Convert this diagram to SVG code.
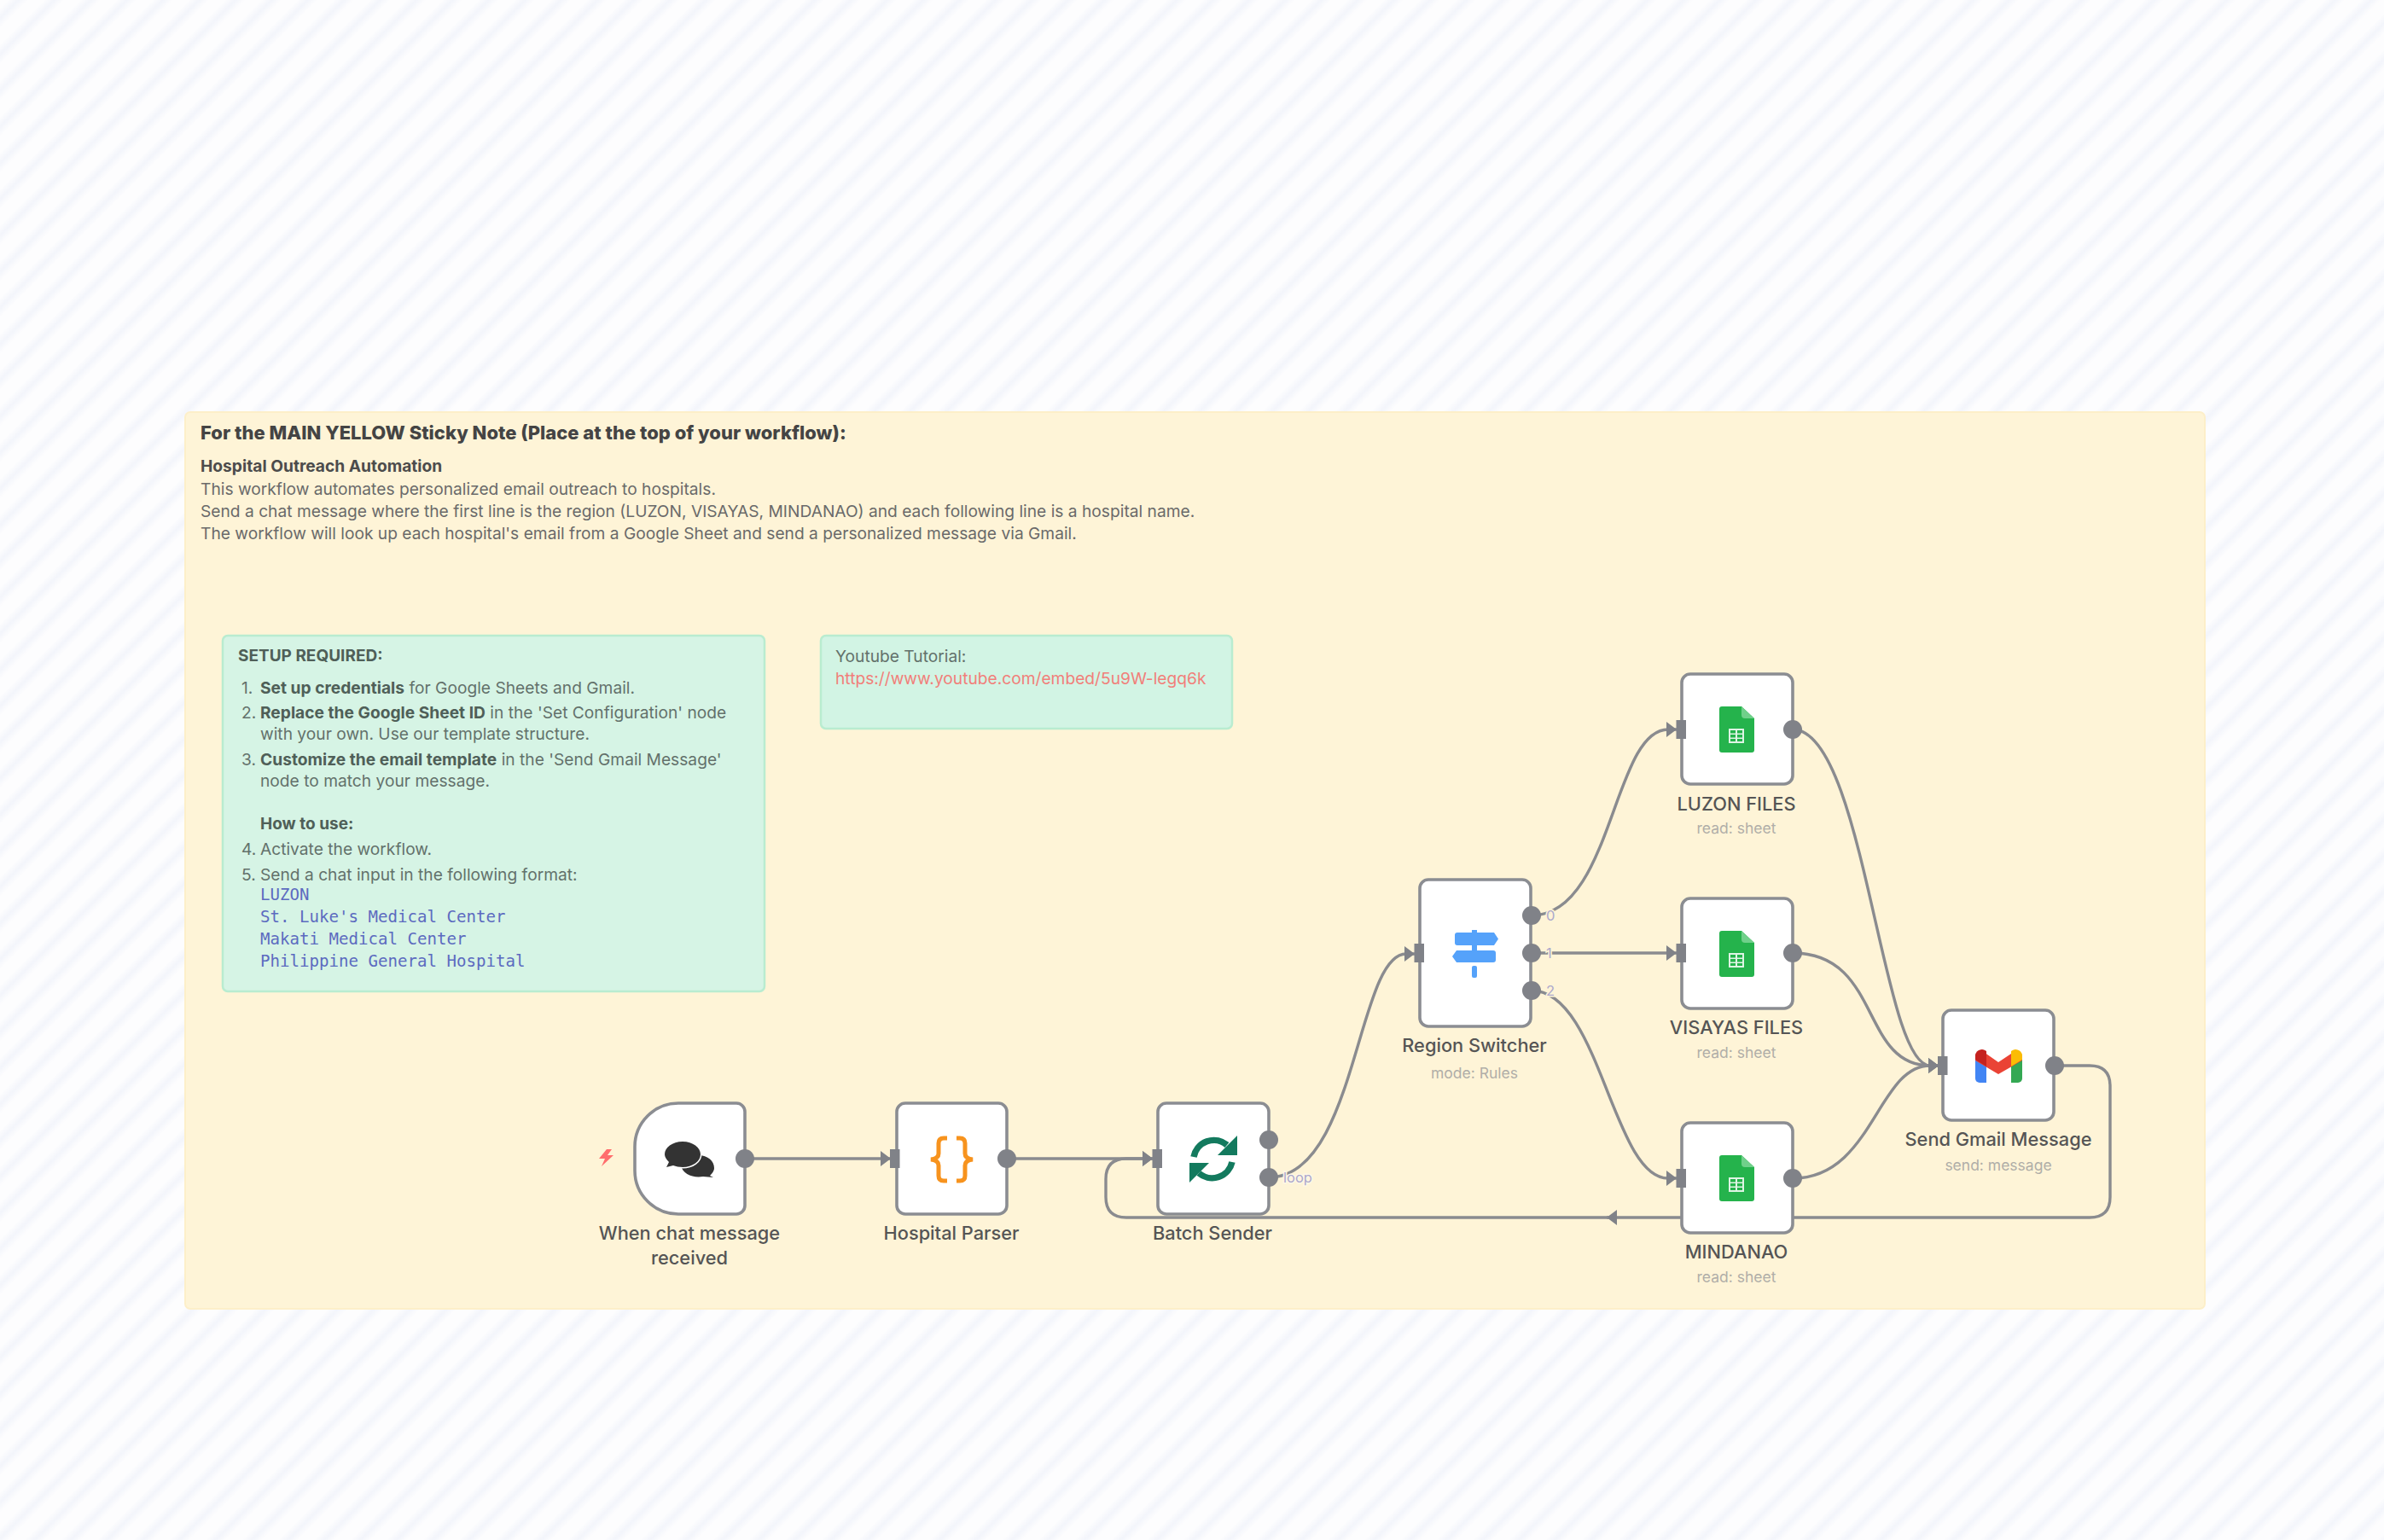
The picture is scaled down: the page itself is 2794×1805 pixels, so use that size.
<svg xmlns="http://www.w3.org/2000/svg" width="2794" height="1805" viewBox="0 0 2794 1805">
<style>
text{font-family:"Inter","Liberation Sans",sans-serif}
.title{font-size:22px;font-weight:800;fill:#444}
.h{font-size:19.2px;font-weight:700;fill:#4c4c4c}
.b{font-size:19.2px;fill:#6a6a6a}
.gh{font-size:19px;font-weight:700;fill:#4f5f58}
.gb{font-size:19.2px;fill:#63716b}
.gs{font-weight:700;fill:#4f5f58}
.m{font-family:"DejaVu Sans Mono",monospace;font-size:19.1px;fill:#5c6bc0}
.box{fill:#fff;stroke:#8b8d92;stroke-width:3.6}
.port{fill:#808288}
.inp{fill:#808288}
.lab{font-size:21.8px;font-weight:500;fill:#555;text-anchor:middle}
.sub{font-size:17.5px;fill:#b0aea8;text-anchor:middle}
.pl{font-size:16.5px;fill:#aca8cc}
.e{fill:none;stroke:#8a8b8f;stroke-width:3.4}
</style>
<defs>
<linearGradient id="st" x1="0" y1="0" x2="1" y2="0">
<stop offset="0" stop-color="#fdfdfe"/><stop offset="0.22" stop-color="#fdfdfe"/><stop offset="0.5" stop-color="#f3f5fb"/><stop offset="0.78" stop-color="#fdfdfe"/><stop offset="1" stop-color="#fdfdfe"/>
</linearGradient>
<pattern id="bg" width="30" height="30" patternUnits="userSpaceOnUse" patternTransform="rotate(45)">
<rect width="30" height="30" fill="url(#st)"/>
</pattern>
<marker id="arr" markerUnits="userSpaceOnUse" markerWidth="13" markerHeight="20" refX="12" refY="10" orient="auto">
<path d="M0,1 L12,10 L0,19 Z" fill="#808288"/>
</marker>
<symbol id="sheet" viewBox="0 0 42 54" overflow="visible">
<path d="M3,0 H26 L41,14 V51 a3,3 0 0 1 -3,3 H3 a3,3 0 0 1 -3,-3 V3 a3,3 0 0 1 3,-3 Z" fill="#25b34c"/>
<path d="M26,0 L41,14 H30 a4,4 0 0 1 -4,-4 Z" fill="#70d08a"/>
<path d="M11,26 H29 V43 H11 Z M13,28 V31.500 H19 V28 Z M21,28 V31.500 H27 V28 Z M13,33 V36.500 H19 V33 Z M21,33 V36.500 H27 V33 Z M13,38 V41 H19 V38 Z M21,38 V41 H27 V38 Z" fill="#fff" fill-rule="evenodd" opacity=".85"/>
</symbol>
</defs>
<rect id="background" width="2794" height="1805" fill="url(#bg)"/>

<g id="note-main">
<rect x="217" y="483" width="2367" height="1051" rx="6" fill="#fef4d7" stroke="#fdefc9" stroke-width="2"/>
<text class="title" x="235" y="515">For the MAIN YELLOW Sticky Note (Place at the top of your workflow):</text>
<text class="h" x="235" y="553">Hospital Outreach Automation</text>
<text class="b" x="235" y="580">This workflow automates personalized email outreach to hospitals.</text>
<text class="b" x="235" y="606">Send a chat message where the first line is the region (LUZON, VISAYAS, MINDANAO) and each following line is a hospital name.</text>
<text class="b" x="235" y="632">The workflow will look up each hospital's email from a Google Sheet and send a personalized message via Gmail.</text>
</g>

<g id="note-setup">
<rect x="261" y="745" width="635" height="417" rx="6" fill="#d6f4e5" stroke="#b9ecd0" stroke-width="2.500"/>
<text class="gh" x="279" y="775">SETUP REQUIRED:</text>
<text class="gb" x="283" y="813">1.</text><text class="gb" x="305" y="813"><tspan class="gs">Set up credentials</tspan> for Google Sheets and Gmail.</text>
<text class="gb" x="283" y="842">2.</text><text class="gb" x="305" y="842"><tspan class="gs">Replace the Google Sheet ID</tspan> in the 'Set Configuration' node</text>
<text class="gb" x="305" y="867">with your own. Use our template structure.</text>
<text class="gb" x="283" y="897">3.</text><text class="gb" x="305" y="897"><tspan class="gs">Customize the email template</tspan> in the 'Send Gmail Message'</text>
<text class="gb" x="305" y="922">node to match your message.</text>
<text class="gh" x="305" y="972">How to use:</text>
<text class="gb" x="283" y="1002">4.</text><text class="gb" x="305" y="1002">Activate the workflow.</text>
<text class="gb" x="283" y="1032">5.</text><text class="gb" x="305" y="1032">Send a chat input in the following format:</text>
<text class="m" x="305" y="1055">LUZON</text>
<text class="m" x="305" y="1081">St. Luke's Medical Center</text>
<text class="m" x="305" y="1107">Makati Medical Center</text>
<text class="m" x="305" y="1133">Philippine General Hospital</text>
</g>

<g id="note-youtube">
<rect x="962" y="745" width="482" height="109" rx="6" fill="#d2f4e4" stroke="#b9ecd0" stroke-width="2.500"/>
<text class="gb" x="979" y="776">Youtube Tutorial:</text>
<text x="979" y="802" font-size="19.2" fill="#f17f7a">https://www.youtube.com/embed/5u9W-legq6k</text>
</g>

<g id="connectors">
<path class="e" marker-end="url(#arr)" d="M873,1358 H1044"/>
<path class="e" marker-end="url(#arr)" d="M1180,1358 H1351"/>
<path class="e" marker-end="url(#arr)" d="M1487,1380 C1590,1380 1590,1118 1648,1118 L1658,1118"/>
<path class="e" marker-end="url(#arr)" d="M1795,1073 C1890,1073 1890,855 1955,855 L1965,855"/>
<path class="e" marker-end="url(#arr)" d="M1795,1117 H1965"/>
<path class="e" marker-end="url(#arr)" d="M1795,1161 C1875,1161 1890,1381 1955,1381 L1965,1381"/>
<path class="e" marker-end="url(#arr)" d="M2101,855 C2185,855 2205,1249 2262,1249 L2272,1249"/>
<path class="e" marker-end="url(#arr)" d="M2101,1117 C2205,1117 2180,1249 2262,1249 L2272,1249"/>
<path class="e" marker-end="url(#arr)" d="M2101,1381 C2195,1381 2200,1249 2262,1249 L2272,1249"/>
<path class="e" marker-end="url(#arr)" d="M2408,1249 H2449 Q2473,1249 2473,1273 V1403 Q2473,1427 2449,1427 H1883"/>
<path class="e" marker-end="url(#arr)" d="M1885,1427 H1320 Q1296,1427 1296,1403 V1382 Q1296,1358 1320,1358 H1351"/>
</g>

<g id="node-chat">
<path class="box" d="M795,1293 H863 a10,10 0 0 1 10,10 V1413 a10,10 0 0 1 -10,10 H795 a51,51 0 0 1 -51,-51 V1344 a51,51 0 0 1 51,-51 Z"/>
<polygon points="711,1347 702,1358 709,1358 705,1367 719,1354 712,1354 717,1347" fill="#ff6d6d"/>
<path d="M818,1354 C830,1354 837,1361 837,1369 C837,1373 834,1376 832,1378 L836,1380 L824,1379 C812,1381 800,1376 798,1366 Z" fill="#333"/>
<path d="M800,1338 C812,1338 821,1345 821,1353 C821,1361 812,1368 800,1368 C796,1368 792,1367 789,1366 L781,1368 L784,1362 C781,1359 779,1356 779,1353 C779,1345 788,1338 800,1338 Z" fill="#333" stroke="#fff" stroke-width="3" paint-order="stroke"/>
<circle class="port" cx="873" cy="1358" r="11"/>
<text class="lab" x="808" y="1453">When chat message</text>
<text class="lab" x="808" y="1482">received</text>
</g>

<g id="node-parser">
<rect class="box" x="1051" y="1293" width="129" height="130" rx="10"/>
<rect class="inp" x="1043" y="1347" width="11.500" height="22"/>
<path d="M1110,1334 H1106 Q1100,1334 1100,1340 V1352 Q1100,1358 1091,1359 Q1100,1360 1100,1366 V1378 Q1100,1384 1106,1384 H1110 M1121,1334 H1125 Q1131,1334 1131,1340 V1352 Q1131,1358 1140,1359 Q1131,1360 1131,1366 V1378 Q1131,1384 1125,1384 H1121" fill="none" stroke="#f7931e" stroke-width="5"/>
<circle class="port" cx="1180" cy="1358" r="11"/>
<text class="lab" x="1115" y="1453">Hospital Parser</text>
</g>

<g id="node-batch">
<rect class="box" x="1357" y="1293" width="130" height="130" rx="10"/>
<rect class="inp" x="1350.500" y="1347" width="11.500" height="22"/>
<path d="M1399,1356 A24,24 0 0 1 1438,1342 M1444,1362 A24,24 0 0 1 1405,1375" fill="none" stroke="#137a5e" stroke-width="7.500"/>
<polygon points="1450,1331 1450,1354 1427,1354" fill="#137a5e"/>
<polygon points="1394,1386 1394,1363 1417,1363" fill="#137a5e"/>
<circle class="port" cx="1487" cy="1336" r="11"/>
<circle class="port" cx="1487" cy="1380" r="11"/>
<text class="pl" x="1504" y="1386" stroke="#fff8e6" stroke-width="3" paint-order="stroke">loop</text>
<text class="lab" x="1421" y="1453">Batch Sender</text>
</g>

<g id="node-switch">
<rect class="box" x="1664" y="1031" width="130" height="172" rx="10"/>
<rect class="inp" x="1657.500" y="1106" width="11.500" height="22"/>
<path d="M1708,1093 H1751 L1756,1100.500 L1751,1108 H1708 a3,3 0 0 1 -3,-3 V1096 a3,3 0 0 1 3,-3 Z M1707,1114 H1750 a3,3 0 0 1 3,3 V1125 a3,3 0 0 1 -3,3 H1707 L1702,1121 Z M1725,1090 h6 v3 h-6 Z M1725,1108 h6 v6 h-6 Z" fill="#55a2fa"/>
<rect x="1725" y="1132" width="6" height="14" rx="2" fill="#55a2fa"/>
<circle class="port" cx="1795" cy="1073" r="11"/>
<circle class="port" cx="1795" cy="1117" r="11"/>
<circle class="port" cx="1795" cy="1161" r="11"/>
<text class="pl" x="1812" y="1079" stroke="#fef4d7" stroke-width="3" paint-order="stroke">0</text>
<text class="pl" x="1812" y="1123" stroke="#fef4d7" stroke-width="3" paint-order="stroke">1</text>
<text class="pl" x="1812" y="1167" stroke="#fef4d7" stroke-width="3" paint-order="stroke">2</text>
<text class="lab" x="1728" y="1233">Region Switcher</text>
<text class="sub" x="1728" y="1264">mode: Rules</text>
</g>

<g id="node-luzon">
<rect class="box" x="1971" y="790" width="130" height="129" rx="10"/>
<rect class="inp" x="1964.500" y="844" width="11.500" height="22"/>
<use href="#sheet" x="2015" y="828" width="42" height="54"/>
<circle class="port" cx="2101" cy="855" r="11"/>
<text class="lab" x="2035" y="950">LUZON FILES</text>
<text class="sub" x="2035" y="977">read: sheet</text>
</g>

<g id="node-visayas">
<rect class="box" x="1971" y="1053" width="130" height="129" rx="10"/>
<rect class="inp" x="1964.500" y="1106" width="11.500" height="22"/>
<use href="#sheet" x="2015" y="1091" width="42" height="54"/>
<circle class="port" cx="2101" cy="1117" r="11"/>
<text class="lab" x="2035" y="1212">VISAYAS FILES</text>
<text class="sub" x="2035" y="1240">read: sheet</text>
</g>

<g id="node-mindanao">
<rect class="box" x="1971" y="1316" width="130" height="129" rx="10"/>
<rect class="inp" x="1964.500" y="1370" width="11.500" height="22"/>
<use href="#sheet" x="2015" y="1354" width="42" height="54"/>
<circle class="port" cx="2101" cy="1381" r="11"/>
<text class="lab" x="2035" y="1475">MINDANAO</text>
<text class="sub" x="2035" y="1503">read: sheet</text>
</g>

<g id="node-gmail">
<rect class="box" x="2277" y="1184" width="130" height="129" rx="10"/>
<rect class="inp" x="2271" y="1238" width="11.500" height="22"/>
<path d="M2315,1240 H2328 V1269 H2320 a5,5 0 0 1 -5,-5 Z" fill="#4285f4"/>
<path d="M2370,1240 H2357 V1269 H2365 a5,5 0 0 0 5,-5 Z" fill="#34a853"/>
<path d="M2322,1231 L2342,1245 L2363,1231 L2370,1243 L2342,1259 L2315,1243 Z" fill="#ea4335"/>
<path d="M2315,1236 a8,8 0 0 1 13,-4 V1250 L2315,1242 Z" fill="#c5221f"/>
<path d="M2370,1236 a8,8 0 0 0 -13,-4 V1250 L2370,1242 Z" fill="#fbbc04"/>
<circle class="port" cx="2408" cy="1249" r="11"/>
<text class="lab" x="2342" y="1343">Send Gmail Message</text>
<text class="sub" x="2342" y="1372">send: message</text>
</g>
</svg>
